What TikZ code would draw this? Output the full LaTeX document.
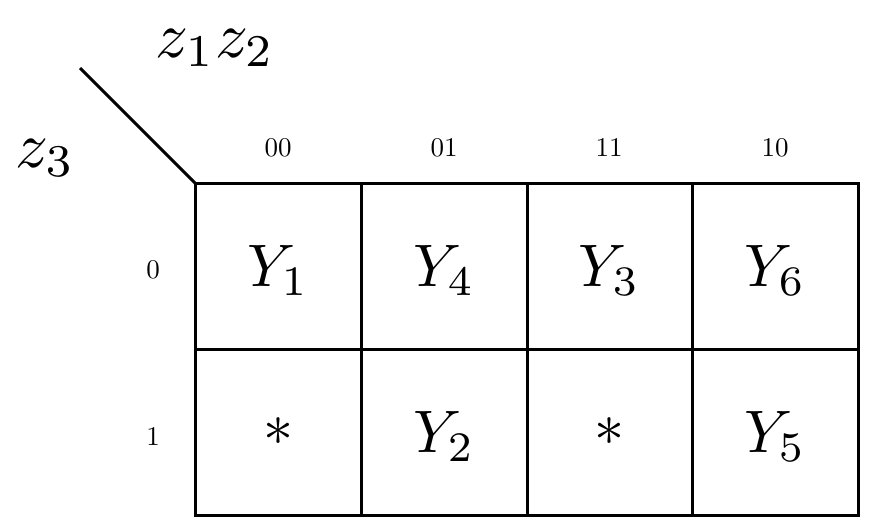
\documentclass[tikz,border=0pt]{standalone}
\begin{document}
\begin{tikzpicture}[x=1pt,y=-1pt,line width=3pt,
  cell/.style={scale=6},
  lab/.style={scale=2.7},
  big/.style={scale=6.5}]
\useasboundingbox (0,0) rectangle (874,530);
\draw (195,183) rectangle (858,515);
\foreach \x in {361,527,692} \draw (\x,183) -- (\x,515);
\draw (195,349) -- (858,349);
\coordinate (c) at (195,183);
\coordinate (d) at (80,68);
\draw (d) -- (c);
\node[big] (z12) at (215,48) {$z_1z_2$};
\node[big] (z3) at (45,158) {$z_3$};
\node[lab] (c00) at (278,148) {00};
\node[lab] (c01) at (444,148) {01};
\node[lab] (c11) at (609,148) {11};
\node[lab] (c10) at (775,148) {10};
\node[lab] (r0) at (153,270) {0};
\node[lab] (r1) at (153,437) {1};
\node[cell] (a) at (278,270) {$Y_1$};
\node[cell] (b) at (444,270) {$Y_4$};
\node[cell] (e) at (609,270) {$Y_3$};
\node[cell] (f) at (775,270) {$Y_6$};
\node[cell] (g) at (278,432) {$*$};
\node[cell] (h) at (444,436) {$Y_2$};
\node[cell] (i) at (609,432) {$*$};
\node[cell] (j) at (775,436) {$Y_5$};
\end{tikzpicture}
\end{document}
